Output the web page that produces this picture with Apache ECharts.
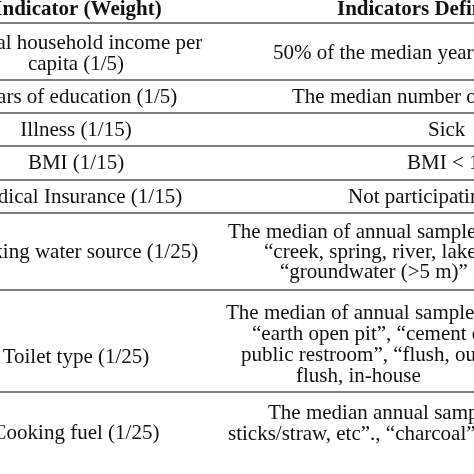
<!DOCTYPE html>
<html><head><meta charset="utf-8">
<script src="https://cdn.jsdelivr.net/npm/echarts@6/dist/echarts.min.js"></script>
<style>html,body{margin:0;padding:0;background:#fff}#c{width:474px;height:474px}</style>
</head><body><div id="c"></div>
<script>
const headers = ["Indicator (Weight)", "Indicators Definition"];
const indicators = [
  ["Annual household income per", "capita (1/5)"],
  ["Years of education (1/5)"],
  ["Illness (1/15)"],
  ["BMI (1/15)"],
  ["Medical Insurance (1/15)"],
  ["Drinking water source (1/25)"],
  ["Toilet type (1/25)"],
  ["Cooking fuel (1/25)"]
];
const definitions = [
  ["50% of the median yearly income"],
  ["The median number of years of education"],
  ["Sick"],
  ["BMI < 18.5"],
  ["Not participating in medical insurance"],
  ["The median of annual sample households using", "\u201ccreek, spring, river, lake, pond\u201d or", "\u201cgroundwater (>5 m)\u201d"],
  ["The median of annual sample households using", "\u201cearth open pit\u201d, \u201ccement open pit\u201d,", "public restroom\u201d, \u201cflush, outdoor\u201d,", "flush, in-house"],
  ["The median annual sample households using", "sticks/straw, etc\u201d., \u201ccharcoal\u201d"]
];
// layout (positions, not data)
const lineY = [23, 80, 113, 146, 180, 213, 290, 392];
const col1Y = [[43,64],[97],[130],[163],[197],[252],[357],[433]];
const col2Y = [[53],[97],[130],[163],[197],[232,252,272],[313,334,355,376],[413,434]];
const col2X = [[273],[292],[428],[407],[348],[228,264,280],[226,252,241,296],[268,228]];
const font = '21px "Liberation Serif", "DejaVu Serif", serif';
const g = [];
g.push({type:'text', style:{text:headers[0], x:78, y:10, align:'center', verticalAlign:'middle', font:'bold '+font, fill:'#111'}});
g.push({type:'text', style:{text:headers[1], x:337, y:10, align:'left', verticalAlign:'middle', font:'bold '+font, fill:'#111'}});
lineY.forEach(y=>g.push({type:'line', shape:{x1:0,y1:y,x2:474,y2:y}, style:{stroke:'#555', lineWidth:1.5}}));
indicators.forEach((lines,i)=>lines.forEach((t,j)=>g.push({type:'text', style:{text:t, x:76, y:col1Y[i][j], align:'center', verticalAlign:'middle', font:font, fill:'#111'}})));
definitions.forEach((lines,i)=>lines.forEach((t,j)=>g.push({type:'text', style:{text:t, x:col2X[i][j], y:col2Y[i][j], align:'left', verticalAlign:'middle', font:font, fill:'#111'}})));
const chart = echarts.init(document.getElementById('c'));
chart.setOption({backgroundColor:'#fff', graphic:{elements:g}});
</script></body></html>
